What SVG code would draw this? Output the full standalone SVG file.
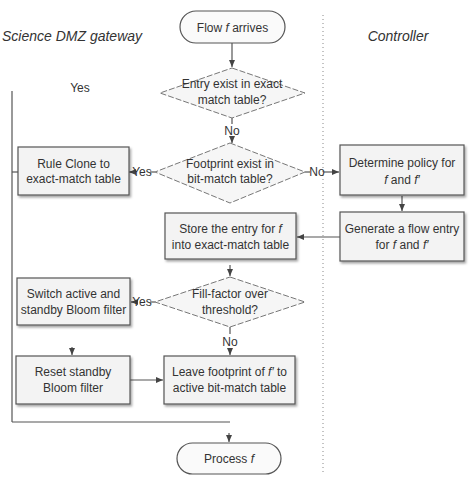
<svg xmlns="http://www.w3.org/2000/svg" width="474" height="480" viewBox="0 0 474 480">
<defs>
<marker id="ah" markerWidth="8" markerHeight="8" refX="7" refY="4" orient="auto" markerUnits="userSpaceOnUse">
<path d="M0,1 L7,4 L0,7 Z" fill="#444"/>
</marker>
<filter id="sh" x="-10%" y="-10%" width="130%" height="140%">
<feDropShadow dx="1.5" dy="2" stdDeviation="1" flood-color="#000" flood-opacity="0.35"/>
</filter>
</defs>
<style>
text{font-family:"Liberation Sans",Arial,sans-serif;font-size:12px;fill:#333;text-anchor:middle}
.hdr{font-size:14px;font-style:italic}
.lbl{font-size:12px}
i,.it{font-style:italic}
.box{fill:#f3f3f3;stroke:#555;stroke-width:1.2;filter:url(#sh)}
.dia{fill:#f6f6f6;stroke:#777;stroke-width:1;stroke-dasharray:6,2}
.pill{fill:#fafafa;stroke:#555;stroke-width:1.2}
.ln{fill:none;stroke:#555;stroke-width:1.2}
.arr{fill:none;stroke:#555;stroke-width:1.2;marker-end:url(#ah)}
.sep{stroke:#888;stroke-width:1;stroke-dasharray:1,3}
</style>
<rect width="474" height="480" fill="#fff"/>

<text class="hdr" x="72" y="41">Science DMZ gateway</text>
<text class="hdr" x="398" y="41">Controller</text>
<line class="sep" x1="323" y1="15" x2="323" y2="472"/>

<g id="connectors">
<line class="arr" x1="232" y1="43" x2="232" y2="67"/>
<line class="ln" x1="232" y1="118" x2="232" y2="124"/>
<line class="arr" x1="232" y1="136" x2="232" y2="143"/>
<line class="ln" x1="12" y1="91" x2="12" y2="422"/>
<line class="ln" x1="12" y1="422" x2="230" y2="422"/>
<line class="ln" x1="12" y1="172" x2="18" y2="172"/>
<line class="ln" x1="155" y1="172" x2="150" y2="172"/>
<line class="arr" x1="134" y1="172" x2="129" y2="172"/>
<line class="ln" x1="305" y1="172" x2="310" y2="172"/>
<line class="arr" x1="324" y1="172" x2="339" y2="172"/>
<line class="arr" x1="402" y1="196" x2="402" y2="211"/>
<line class="arr" x1="340" y1="237" x2="297" y2="237"/>
<line class="arr" x1="230" y1="265" x2="230" y2="276"/>
<line class="ln" x1="155" y1="302" x2="150" y2="302"/>
<line class="arr" x1="135" y1="302" x2="131" y2="302"/>
<line class="ln" x1="230" y1="327" x2="230" y2="334"/>
<line class="arr" x1="230" y1="348" x2="230" y2="355"/>
<line class="arr" x1="72" y1="347" x2="72" y2="355"/>
<line class="arr" x1="130" y1="380" x2="163" y2="380"/>
<line class="arr" x1="229" y1="433" x2="229" y2="442"/>
</g>

<g id="start">
<rect class="pill" x="180" y="11" width="105" height="32" rx="16"/>
<text x="232.5" y="32">Flow <tspan class="it">f</tspan> arrives</text>
</g>

<g id="d1">
<polygon class="dia" points="232,68 305,93 232,118 160,93"/>
<text x="232" y="88">Entry exist in exact</text>
<text x="232" y="104">match table?</text>
</g>
<text class="lbl" x="232" y="135">No</text>
<text class="lbl" x="80" y="92">Yes</text>

<g id="d2">
<polygon class="dia" points="230,143 305,172 230,203 155,172"/>
<text x="230" y="168">Footprint exist in</text>
<text x="230" y="183">bit-match table?</text>
</g>
<text class="lbl" x="142" y="176">Yes</text>
<text class="lbl" x="317" y="176">No</text>

<g id="ruleclone">
<rect class="box" x="18" y="147" width="111" height="48"/>
<text x="73.5" y="168">Rule Clone to</text>
<text x="73.5" y="183">exact-match table</text>
</g>

<g id="determine">
<rect class="box" x="340" y="145" width="124" height="50"/>
<text x="402" y="167">Determine policy for</text>
<text x="402" y="184"><tspan class="it">f</tspan> and <tspan class="it">f′</tspan></text>
</g>

<g id="generate">
<rect class="box" x="340" y="212" width="124" height="49"/>
<text x="402" y="233">Generate a flow entry</text>
<text x="402" y="249">for <tspan class="it">f</tspan> and <tspan class="it">f′</tspan></text>
</g>

<g id="store">
<rect class="box" x="165" y="213" width="131" height="46"/>
<text x="230.5" y="233">Store the entry for <tspan class="it">f</tspan></text>
<text x="230.5" y="249">into exact-match table</text>
</g>

<g id="d3">
<polygon class="dia" points="230,277 305,302 230,327 155,302"/>
<text x="230" y="298">Fill-factor over</text>
<text x="230" y="314">threshold?</text>
</g>
<text class="lbl" x="142" y="306">Yes</text>
<text class="lbl" x="230" y="346">No</text>

<g id="switch">
<rect class="box" x="17" y="278" width="113" height="47"/>
<text x="73.5" y="298">Switch active and</text>
<text x="73.5" y="314">standby Bloom filter</text>
</g>

<g id="reset">
<rect class="box" x="16" y="356" width="114" height="48"/>
<text x="73" y="376">Reset standby</text>
<text x="73" y="392">Bloom filter</text>
</g>

<g id="leave">
<rect class="box" x="164" y="356" width="131" height="48"/>
<text x="229.5" y="376">Leave footprint of <tspan class="it">f′</tspan> to</text>
<text x="229.5" y="392">active bit-match table</text>
</g>

<g id="process">
<rect class="pill" x="177" y="443" width="104" height="31" rx="15.5"/>
<text x="229" y="463">Process <tspan class="it">f</tspan></text>
</g>
</svg>
